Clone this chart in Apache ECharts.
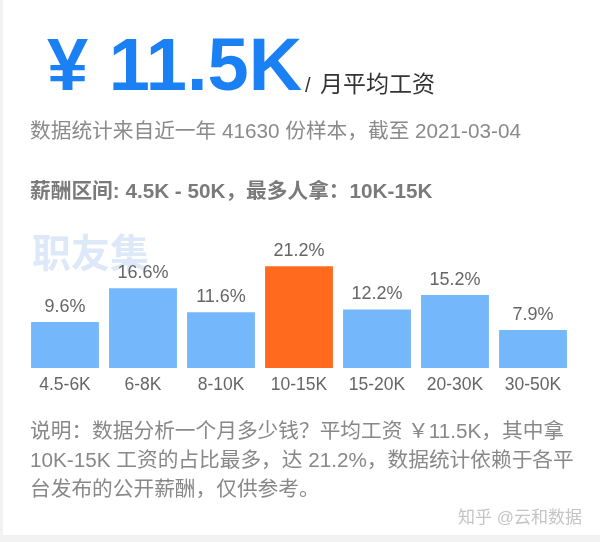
<!DOCTYPE html>
<html lang="zh-CN">
<head>
<meta charset="utf-8">
<title>月平均工资</title>
<script src="https://cdn.jsdelivr.net/npm/echarts@6/dist/echarts.min.js"></script>
<style>
  html, body { margin: 0; padding: 0; background: #fff; }
  #chart { width: 600px; height: 542px; }
</style>
</head>
<body>
<div id="chart"></div>
<script>
// 薪酬区间 + 占比（%）
const categories = ['4.5-6K', '6-8K', '8-10K', '10-15K', '15-20K', '20-30K', '30-50K'];
const shares = [9.6, 16.6, 11.6, 21.2, 12.2, 15.2, 7.9];

const avgSalary = '¥ 11.5K';
const sampleNote = '数据统计来自近一年 41630 份样本，截至 2021-03-04';
const rangeNote = '薪酬区间: 4.5K - 50K，最多人拿：10K-15K';
const footLines = [
  '说明：数据分析一个月多少钱？平均工资 ￥11.5K，其中拿',
  '10K-15K 工资的占比最多，达 21.2%，数据统计依赖于各平',
  '台发布的公开薪酬，仅供参考。'
];

const FONT = '"Liberation Sans", "Noto Sans CJK SC", sans-serif';
const BLUE = '#75b7fb';
const ORANGE = '#ff6a1f';

const maxIdx = shares.indexOf(Math.max(...shares));

const chart = echarts.init(document.getElementById('chart'), null, { renderer: 'canvas' });

function txt(x, y, text, size, color, weight) {
  return {
    type: 'text',
    x: x,
    y: y,
    silent: true,
    style: {
      text: text,
      fill: color,
      font: (weight || 'normal') + ' ' + size + 'px ' + FONT,
      verticalAlign: 'middle'
    }
  };
}

chart.setOption({
  backgroundColor: '#fff',
  graphic: [
    // 边框
    { type: 'rect', shape: { x: 0, y: 0, width: 3, height: 542 }, style: { fill: '#f2f2f2' }, silent: true },
    { type: 'rect', shape: { x: 0, y: 535, width: 600, height: 7 }, style: { fill: '#f2f2f2' }, silent: true },
    // 水印
    txt(32, 256, '职友集', 39, '#dde9f8', 'bold'),
    txt(47, 70, avgSalary, 74, '#1b80f3', 'bold'),
    txt(305, 86, '/', 20, '#333'),
    txt(320, 86, '月平均工资', 23, '#333'),
    txt(30, 132, sampleNote, 20.7, '#8a8a8a'),
    txt(30, 192, rangeNote, 20.7, '#7a7a7a', 'bold'),
    txt(30, 432, footLines[0], 20.7, '#888'),
    txt(30, 461, footLines[1], 20.7, '#888'),
    txt(30, 490, footLines[2], 20.7, '#888'),
    txt(458, 518, '知乎 @云和数据', 17, '#c4c4c4')
  ],
  grid: {
    left: 26,
    right: 28,
    top: 248,
    bottom: 174,
    containLabel: false
  },
  xAxis: {
    type: 'category',
    data: categories,
    axisLine: { show: false },
    axisTick: { show: false },
    axisLabel: {
      color: '#666',
      fontSize: 17.5,
      fontFamily: FONT,
      margin: 8
    }
  },
  yAxis: {
    type: 'value',
    min: 0,
    max: 25,
    show: false,
    splitLine: { show: false }
  },
  series: [
    {
      type: 'bar',
      data: shares,
      barWidth: '87%',
      itemStyle: {
        color: (p) => (p.dataIndex === maxIdx ? ORANGE : BLUE)
      },
      label: {
        show: true,
        position: 'top',
        distance: 6,
        formatter: '{c}%',
        color: '#666',
        fontSize: 18,
        fontFamily: FONT
      }
    }
  ]
});
</script>
</body>
</html>
